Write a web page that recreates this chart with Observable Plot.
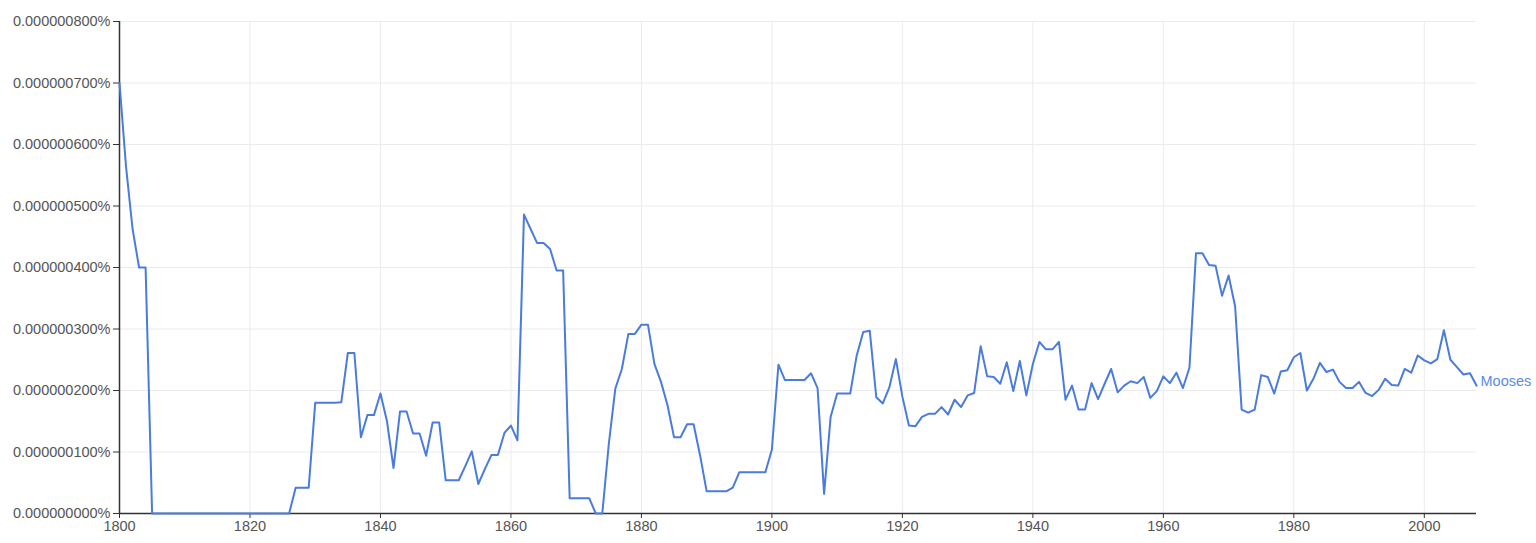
<!DOCTYPE html>
<html>
<head>
<meta charset="utf-8">
<script src="https://cdn.jsdelivr.net/npm/d3@7"></script>
<script src="https://cdn.jsdelivr.net/npm/@observablehq/plot@0.6"></script>
<style>
  html, body { margin: 0; padding: 0; background: #fff; }
  #chart svg { display: block; }
</style>
</head>
<body>
<div id="chart"></div>
<script>
// values in billionths of a percent (1 unit = 0.000000001%)
const startYear = 1800;
const mooses = [
  700, 564, 463, 400, 400, 0, 0, 0, 0, 0,          // 1800-1809
  0, 0, 0, 0, 0, 0, 0, 0, 0, 0,                    // 1810-1819
  0, 0, 0, 0, 0, 0, 0, 42, 42, 42,                 // 1820-1829
  180, 180, 180, 180, 181, 261, 261, 124, 160, 160,// 1830-1839
  195, 150, 74, 166, 166, 130, 130, 94, 148, 148,  // 1840-1849
  54, 54, 54, 77, 101, 48, 72, 95, 95, 131,        // 1850-1859
  143, 119, 486, 463, 440, 440, 430, 395, 395, 25, // 1860-1869
  25, 25, 25, 0, 0, 113, 203, 235, 292, 292,       // 1870-1879
  307, 307, 243, 214, 176, 124, 124, 145, 145, 94, // 1880-1889
  36, 36, 36, 36, 42, 67, 67, 67, 67, 67,          // 1890-1899
  104, 242, 217, 217, 217, 217, 228, 204, 32, 157, // 1900-1909
  195, 195, 195, 257, 295, 297, 189, 179, 205, 251,// 1910-1919
  190, 143, 142, 157, 162, 162, 173, 161, 185, 173,// 1920-1929
  192, 196, 272, 223, 222, 211, 246, 199, 248, 192,// 1930-1939
  243, 279, 267, 267, 279, 185, 208, 169, 169, 212,// 1940-1949
  186, 211, 235, 197, 208, 215, 212, 222, 188, 199,// 1950-1959
  223, 212, 229, 204, 237, 423, 423, 404, 403, 354,// 1960-1969
  387, 337, 169, 164, 169, 225, 222, 195, 231, 233,// 1970-1979
  254, 261, 200, 219, 245, 230, 234, 214, 204, 204,// 1980-1989
  214, 196, 191, 201, 219, 209, 208, 235, 229, 257,// 1990-1999
  249, 244, 251, 298, 250, 238, 226, 228, 208      // 2000-2008
];
const seriesName = "Mooses";
const xTicks = [1800, 1820, 1840, 1860, 1880, 1900, 1920, 1940, 1960, 1980, 2000];
const yTicks = [0, 100, 200, 300, 400, 500, 600, 700, 800];

const data = mooses.map((v, i) => ({year: startYear + i, value: v, name: seriesName}));
const last = data[data.length - 1];

const lineColor = "#4a7bde";
const fmtY = d => (d / 1e9).toFixed(9) + "%";

const chart = Plot.plot({
  width: 1536,
  height: 543,
  marginLeft: 119,
  marginRight: 60,
  marginTop: 21,
  marginBottom: 30,
  style: {fontFamily: "'Liberation Sans', Arial, sans-serif", fontSize: "14.5px", color: "#555", background: "#fff"},
  x: {domain: [1800, 2008], ticks: xTicks, tickFormat: d => String(d)},
  y: {domain: [0, 800], ticks: yTicks, tickFormat: fmtY},
  marks: [
    Plot.gridX(xTicks, {stroke: "#ebebeb", strokeOpacity: 1}),
    Plot.gridY(yTicks, {stroke: "#ebebeb", strokeOpacity: 1}),
    Plot.axisX({ticks: xTicks, tickFormat: d => String(d), tickSize: 5, tickPadding: 2, stroke: "#333", fill: "#555", label: null, fontSize: 14.5}),
    Plot.axisY({ticks: yTicks, tickFormat: fmtY, tickSize: 6, tickPadding: 3, stroke: "#333", fill: "#555", label: null, fontSize: 14.5}),
    Plot.ruleX([1800], {stroke: "#333", strokeWidth: 1.5}),
    Plot.ruleY([0], {stroke: "#333", strokeWidth: 1.5}),
    Plot.line(data, {x: "year", y: "value", stroke: lineColor, strokeWidth: 2, curve: "linear"}),
    Plot.text([last], {x: "year", y: "value", text: "name", dx: 4, dy: -4, textAnchor: "start", fill: "#5b8be6", fontSize: 14.5})
  ]
});
document.getElementById("chart").appendChild(chart);
</script>
</body>
</html>
